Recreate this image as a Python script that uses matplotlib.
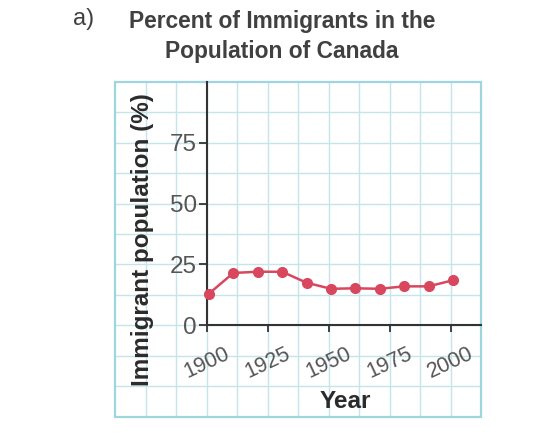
import numpy as np
import matplotlib
matplotlib.use("Agg")
import matplotlib.pyplot as plt
from matplotlib.patches import Rectangle

# census years and percent of immigrants
years = [1901, 1911, 1921, 1931, 1941, 1951, 1961, 1971, 1981, 1991, 2001]
percent = [13.0, 21.5, 22.0, 22.0, 17.5, 15.0, 15.2, 15.0, 16.0, 16.0, 18.5]
xticks = [1900, 1925, 1950, 1975, 2000]
yticks = [0, 25, 50, 75]

plt.rcParams['font.family'] = ['Liberation Sans', 'DejaVu Sans']

fig = plt.figure(figsize=(5.5, 4.38), dpi=100)
ax = fig.add_axes([115/550, (438-416.7)/438, 366/550, 335/438])
ax.set_xlim(1862.5, 2012.5)
ax.set_ylim(-37.5, 100)

# graph paper background
grid_c = '#c4e5e9'
for gx in np.arange(1875, 2012.5, 12.5):
    ax.axvline(gx, color=grid_c, lw=1.0, zorder=0)
for gy in np.arange(-25, 100, 12.5):
    ax.axhline(gy, color=grid_c, lw=1.0, zorder=0)
ax.add_patch(Rectangle((0, 0), 1, 1, transform=ax.transAxes, fill=False,
                       edgecolor='#9fd6de', lw=1.6, zorder=1, clip_on=False))

# axes through the origin
for s in ['top', 'right']:
    ax.spines[s].set_visible(False)
ax.spines['left'].set_position(('data', 1900))
ax.spines['bottom'].set_position(('data', 0))
ax.spines['left'].set_bounds(0, 100)
ax.spines['bottom'].set_bounds(1900, 2012.5)
for s in ['left', 'bottom']:
    ax.spines[s].set_color('#333333')
    ax.spines[s].set_linewidth(1.5)
    ax.spines[s].set_zorder(2)

ax.set_xticks(xticks)
ax.set_yticks(yticks)
ax.tick_params(axis='y', direction='out', length=6, width=1.3, color='#333333',
               labelsize=17.5, labelcolor='#555555', pad=1)
ax.tick_params(axis='x', direction='out', length=5, width=1.3, color='#333333',
               labelsize=15.5, labelcolor='#555555', pad=8)
for lab in ax.get_xticklabels():
    lab.set_rotation(25)
    lab.set_ha('center')

ax.plot(years, percent, color='#d9475f', lw=1.8, marker='o', ms=7,
        mec='#d9475f', zorder=3, clip_on=False)

fig.text(142/550, (438-240)/438, 'Immigrant population (%)', rotation=90,
         ha='center', va='center', fontsize=17.5, fontweight='bold', color='#2b2b2b')
fig.text(345/550, (438-401)/438, 'Year', ha='center', va='center',
         fontsize=17.5, fontweight='bold', color='#2b2b2b')

fig.text(282/550, (438-28)/438, 'Percent of Immigrants in the',
         ha='center', va='baseline', fontsize=16.4, fontweight='bold', color='#404040')
fig.text(282/550, (438-58)/438, 'Population of Canada',
         ha='center', va='baseline', fontsize=16.4, fontweight='bold', color='#404040')
fig.text(73/550, (438-25)/438, 'a)', ha='left', va='baseline',
         fontsize=17, color='#404040')

fig.savefig('out.png', dpi=100)
